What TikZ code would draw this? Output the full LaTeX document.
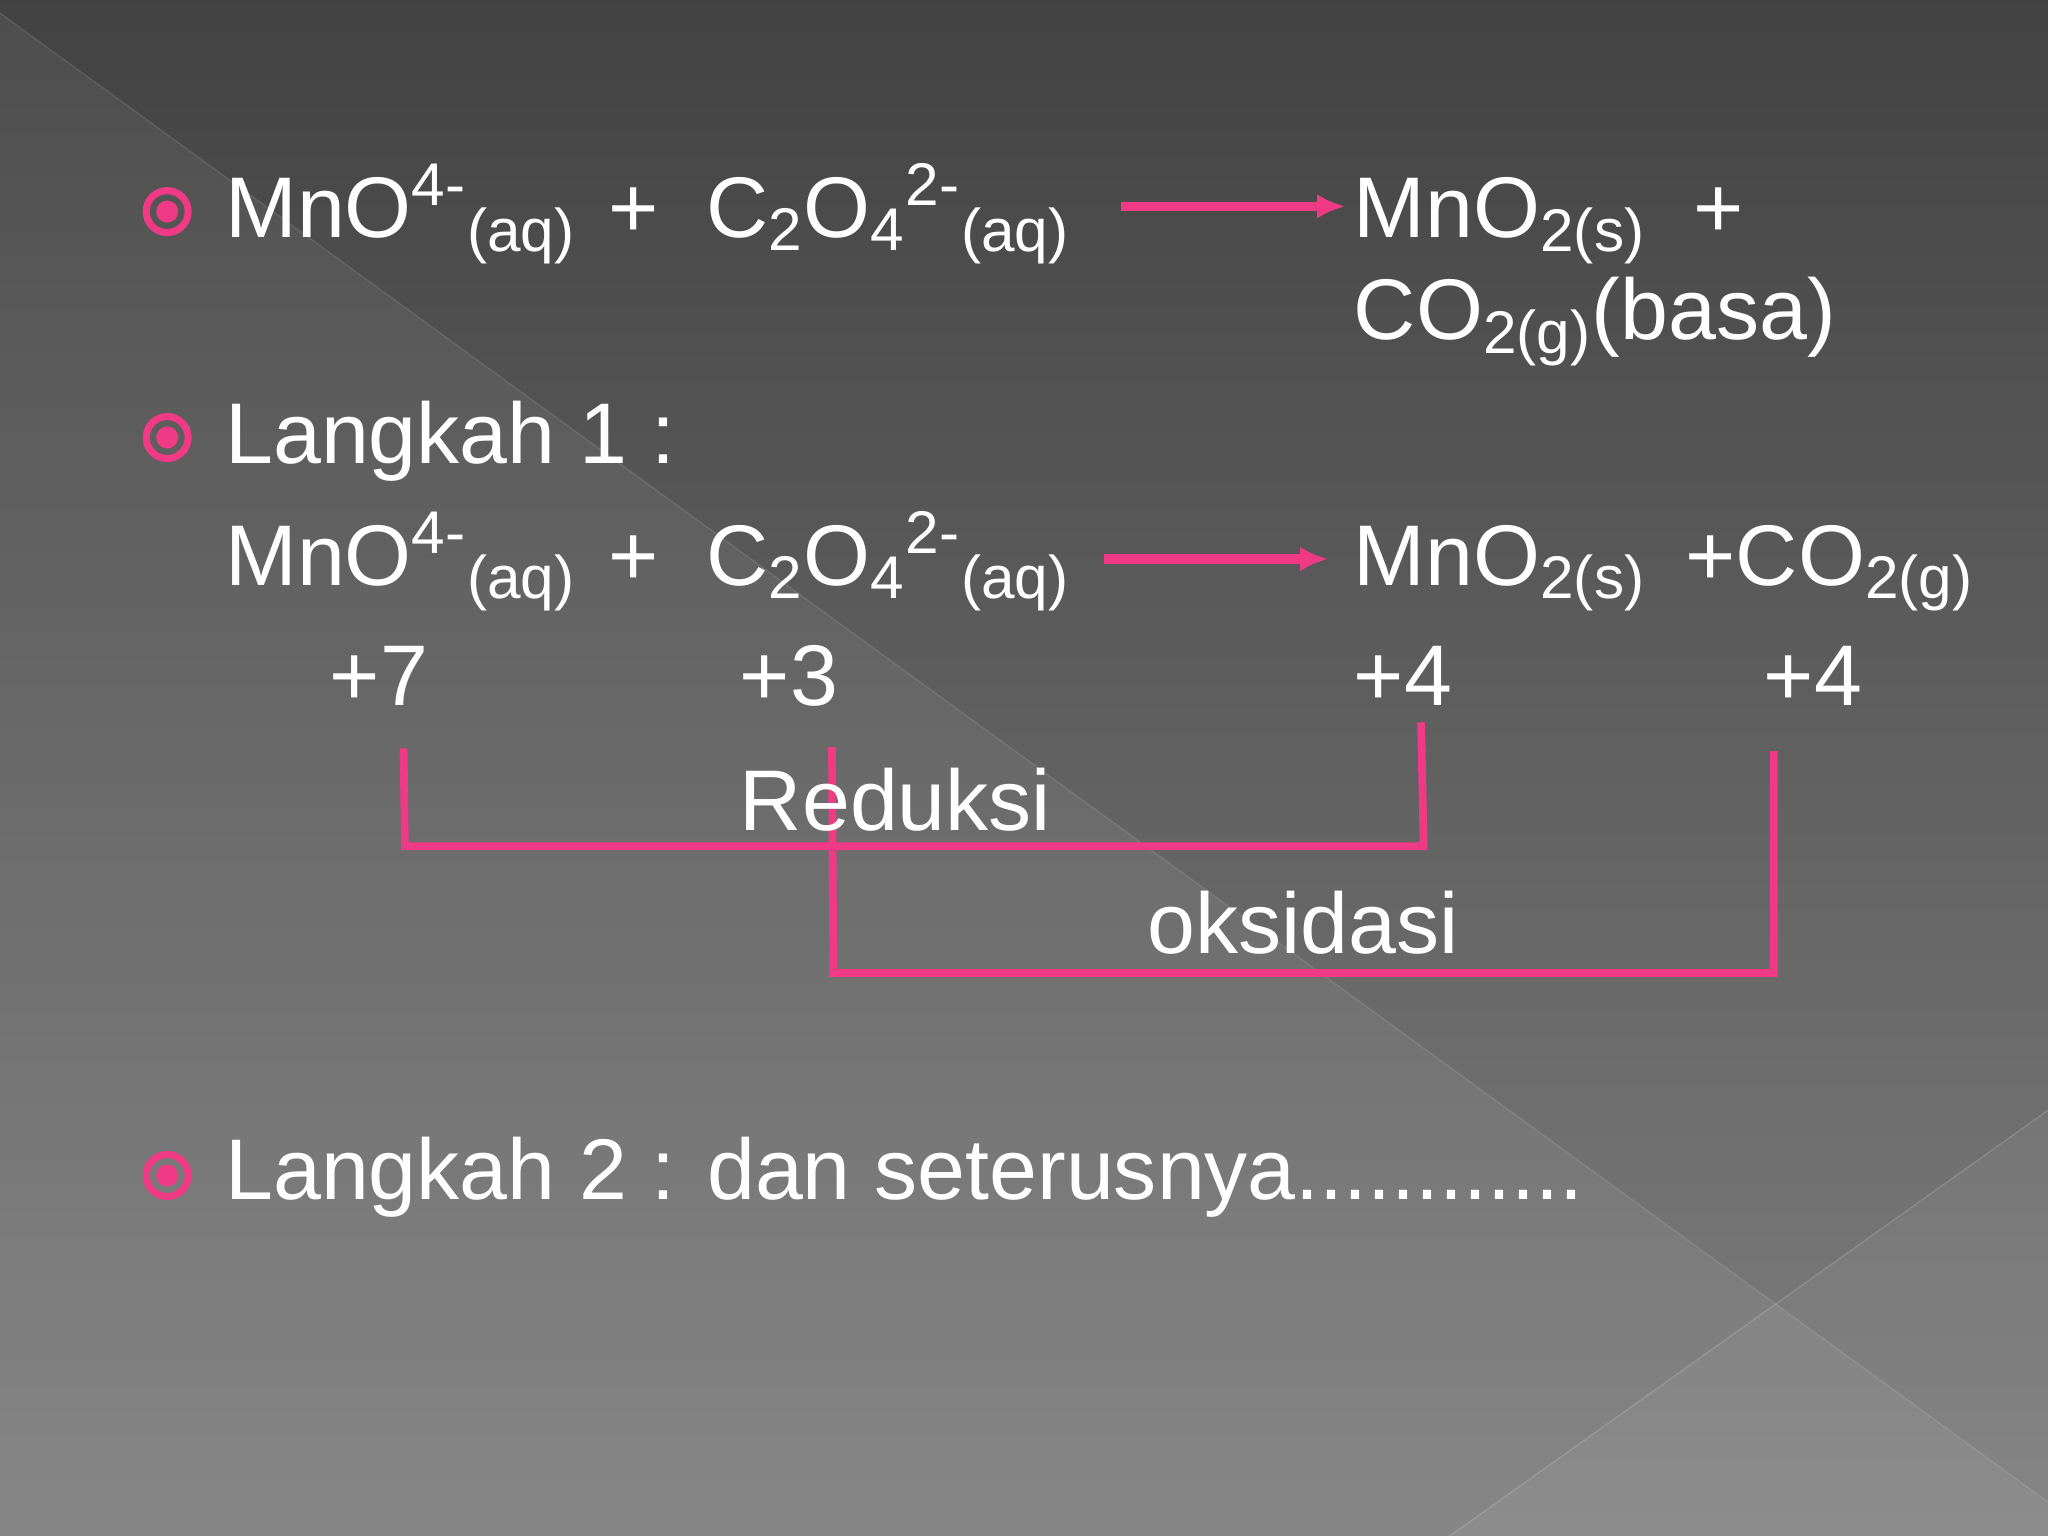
\documentclass[tikz,border=0pt]{standalone}
\usepackage{fontspec}
\usetikzlibrary{arrows.meta}
\setmainfont{Liberation Sans}
\definecolor{pk}{HTML}{F03A85}
\newcommand{\sbs}[1]{\textsubscript{#1}}
\newcommand{\sps}[1]{\textsuperscript{#1}}
\begin{document}
\begin{tikzpicture}[x=0.01306cm,y=-0.01306cm,
  txt/.style={anchor=base west,inner sep=0pt,text=white,font=\fontsize{24.5}{29}\selectfont},
  brk/.style={draw=pk,line width=2.2pt},
  arr/.style={draw=pk,line width=2.6pt,-{Latex[length=8pt,width=7pt]}},
  bul/.style={circle,draw=pk,line width=2pt,minimum size=0.42cm,inner sep=0pt}]
\useasboundingbox (0,0) rectangle (1568,1176);
\shade[top color=black!74,bottom color=black!50] (0,0) rectangle (1568,1176);
\fill[white,opacity=0.06] (0,10) -- (1568,1150) -- (1568,1176) -- (0,1176) -- cycle;
\fill[white,opacity=0.05] (1110,1176) -- (1568,850) -- (1568,1176) -- cycle;
\draw[white,opacity=0.15] (1110,1176) -- (1568,850);
\draw[white,opacity=0.1] (0,10) -- (1568,1150);
% bullets
\foreach \n/\y in {b1/162,b2/335,b3/900}{
  \node[bul] (\n) at (128,\y) {};
  \fill[pk] (\n.center) circle (0.11cm);}
% row 1
\node[txt] (r1a) at (172,182) {MnO\sps{4-}\sbs{(aq)}};
\node[txt] (r1p) at (465,182) {+};
\node[txt] (r1b) at (540,182) {C\sbs{2}O\sbs{4}\sps{2-}\sbs{(aq)}};
\coordinate (a1s) at (858,158); \coordinate (a1e) at (1030,158);
\draw[arr] (a1s) -- (a1e);
\node[txt] (r1c) at (1036,182) {MnO\sbs{2(s)}\ \ +};
\node[txt] (r2c) at (1036,260) {CO\sbs{2(g)}(basa)};
\node[txt] (l1) at (172,355) {Langkah 1 :};
% row 3
\node[txt] (r3a) at (172,448) {MnO\sps{4-}\sbs{(aq)}};
\node[txt] (r3p) at (465,448) {+};
\node[txt] (r3b) at (540,448) {C\sbs{2}O\sbs{4}\sps{2-}\sbs{(aq)}};
\coordinate (a2s) at (845,428); \coordinate (a2e) at (1017,428);
\draw[arr] (a2s) -- (a2e);
\node[txt] (r3c) at (1036,448) {MnO\sbs{2(s)}};
\node[txt] (r3d) at (1290,448) {+CO\sbs{2(g)}};
% oxidation numbers
\node[txt] (o1) at (252,540) {+7};
\node[txt] (o2) at (566,540) {+3};
\node[txt] (o3) at (1036,540) {+4};
\node[txt] (o4) at (1350,540) {+4};
% brackets
\coordinate (p1) at (309,573); \coordinate (p2) at (310,648);
\coordinate (p3) at (1090,648); \coordinate (p4) at (1088,553);
\draw[brk] (p1) -- (p2) -- (p3) -- (p4);
\coordinate (q1) at (637,572); \coordinate (q2) at (638,745);
\coordinate (q3) at (1358,745); \coordinate (q4) at (1358,575);
\draw[brk] (q1) -- (q2) -- (q3) -- (q4);
\node[txt] (red) at (566,636) {Reduksi};
\node[txt] (oks) at (878,730) {oksidasi};
\node[txt] (l2) at (172,918) {Langkah 2 : dan seterusnya............};
\end{tikzpicture}
\end{document}
